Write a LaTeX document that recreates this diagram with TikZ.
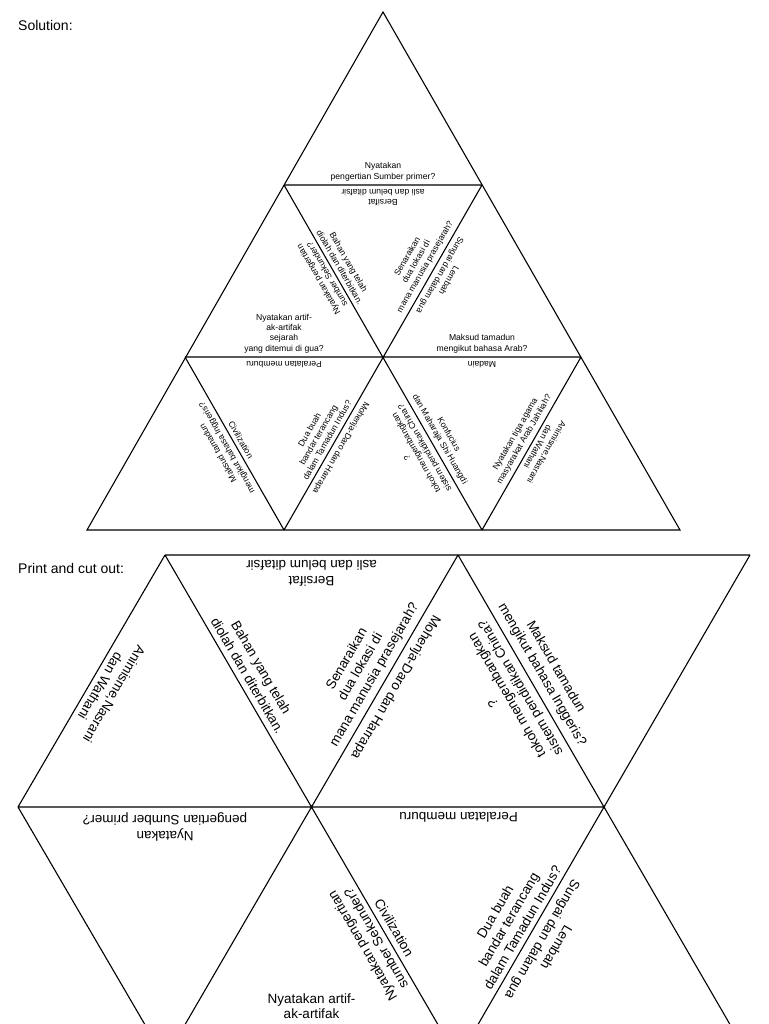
\documentclass[tikz,border=0pt]{standalone}
\usepackage{fontspec}
\setmainfont{Liberation Sans}
\usetikzlibrary{calc}
\tikzset{
  edge/.style={line width=1.1pt, line join=miter},
  stext/.style={anchor=south, align=center, inner sep=4pt, font=\fontsize{8.6}{10.2}\selectfont},
  btext/.style={anchor=south, align=center, inner sep=5.5pt, font=\fontsize{13.5}{15.8}\selectfont},
  lbl/.style={anchor=west, inner sep=0pt, font=\fontsize{14}{16}\selectfont}
}
\newcommand\etext[5]{%
  \path let \p1=(#2),\p2=(#3),\p3=(#4),
    \n1={atan2(\y2-\y1,\x2-\x1)},
    \n2={((\x2-\x1)/100)*((\y3-\y1)/100)-((\y2-\y1)/100)*((\x3-\x1)/100)}
  in node[#1, rotate={\n1+180*(\n2<0)}] at ($(#2)!0.5!(#3)$) {#5};}
\begin{document}
\begin{tikzpicture}[x=1pt,y=-1pt]
\useasboundingbox (0,0) rectangle (768,1024);
\clip (0,0) rectangle (768,1024);
\node[lbl] (sol) at (18,25) {Solution:};
\node[lbl] (prt) at (18,568) {Print and cut out:};
% top
\coordinate (a0) at (383,12);
\coordinate (b1) at (284,185); \coordinate (b2) at (482,185);
\coordinate (c1) at (185,357); \coordinate (c2) at (383,357); \coordinate (c3) at (581,357);
\coordinate (d1) at (87,530); \coordinate (d2) at (284,530); \coordinate (d3) at (482,530); \coordinate (d4) at (680,530);
\draw[edge] (a0) -- (d1) -- (d4) -- cycle;
\draw[edge] (b1) -- (b2) (c1) -- (c3) (b1) -- (d3) (b2) -- (d2) (c1) -- (d2) (c3) -- (d3);
\etext{stext}{b1}{b2}{a0}{Nyatakan\\pengertian Sumber primer?}
\etext{stext}{b1}{b2}{c2}{Bersifat\\asli dan belum ditafsir}
\etext{stext}{b1}{c2}{b2}{Bahan yang telah\\diolah dan diterbitkan.}
\etext{stext}{b2}{c2}{b1}{Senaraikan\\dua lokasi di\\mana manusia prasejarah?}
\etext{stext}{b1}{c2}{c1}{Nyatakan pengertian\\sumber Sekunder?}
\etext{stext}{c1}{c2}{b1}{Nyatakan artif-\\ak-artifak\\sejarah\\yang ditemui di gua?}
\etext{stext}{b2}{c2}{c3}{Lembah\\Sungai dan dalam gua}
\etext{stext}{c2}{c3}{b2}{Maksud tamadun\\mengikut bahasa Arab?}
\etext{stext}{c1}{c2}{d2}{Peralatan memburu}
\etext{stext}{c1}{d2}{d1}{Maksud tamadun\\mengikut bahasa Inggeris?}
\etext{stext}{c1}{d2}{c2}{Civilization}
\etext{stext}{c2}{d2}{c1}{Dua buah\\bandar terancang\\dalam Tamadun Indus?}
\etext{stext}{c2}{d2}{d3}{Mohenja-Daro dan Harrapa}
\etext{stext}{c2}{d3}{d2}{?\\tokoh mengembangkan\\sistem pendidikan China?}
\etext{stext}{c2}{d3}{c3}{Konfucius\\dan Maharaja Shi Huangdi}
\etext{stext}{c2}{c3}{d3}{Madain}
\etext{stext}{c3}{d3}{c2}{Nyatakan tiga agama\\masyarakat Arab Jahiliah?}
\etext{stext}{c3}{d3}{d4}{Animisme,Nasrani\\dan Wathani}
% bottom
\coordinate (p1) at (165,555); \coordinate (p2) at (458,555); \coordinate (p3) at (750,555);
\coordinate (q0) at (18,807); \coordinate (q1) at (312,807); \coordinate (q2) at (605,807);
\coordinate (r1) at (165,1059); \coordinate (r2) at (458,1059); \coordinate (r3) at (750,1059);
\draw[edge] (p1) -- (p3) (q0) -- (q2) (q0) -- (p1) (p1) -- (r2) (p2) -- (r1) (p2) -- (r3) (p3) -- (r2) (q0) -- (r1);
\etext{btext}{p1}{q0}{q1}{Animisme,Nasrani\\dan Wathani}
\etext{btext}{p1}{p2}{q1}{Bersifat\\asli dan belum ditafsir}
\etext{btext}{p1}{q1}{p2}{Bahan yang telah\\diolah dan diterbitkan.}
\etext{btext}{p2}{q1}{p1}{Senaraikan\\dua lokasi di\\mana manusia prasejarah?}
\etext{btext}{p2}{q1}{q2}{Mohenja-Daro dan Harrapa}
\etext{btext}{p2}{q2}{q1}{?\\tokoh mengembangkan\\sistem pendidikan China?}
\etext{btext}{p2}{q2}{p3}{Maksud tamadun\\mengikut bahasa Inggeris?}
\etext{btext}{q0}{q1}{r1}{Nyatakan\\pengertian Sumber primer?}
\etext{btext}{q1}{r2}{r1}{Nyatakan pengertian\\sumber Sekunder?}
\etext{btext}{r1}{r2}{q1}{Nyatakan artif-\\ak-artifak\\sejarah\\yang ditemui di gua?}
\etext{btext}{q1}{q2}{r2}{Peralatan memburu}
\etext{btext}{q1}{r2}{q2}{Civilization}
\etext{btext}{q2}{r2}{q1}{Dua buah\\bandar terancang\\dalam Tamadun Indus?}
\etext{btext}{q2}{r2}{r3}{Lembah\\Sungai dan dalam gua}
\end{tikzpicture}
\end{document}
